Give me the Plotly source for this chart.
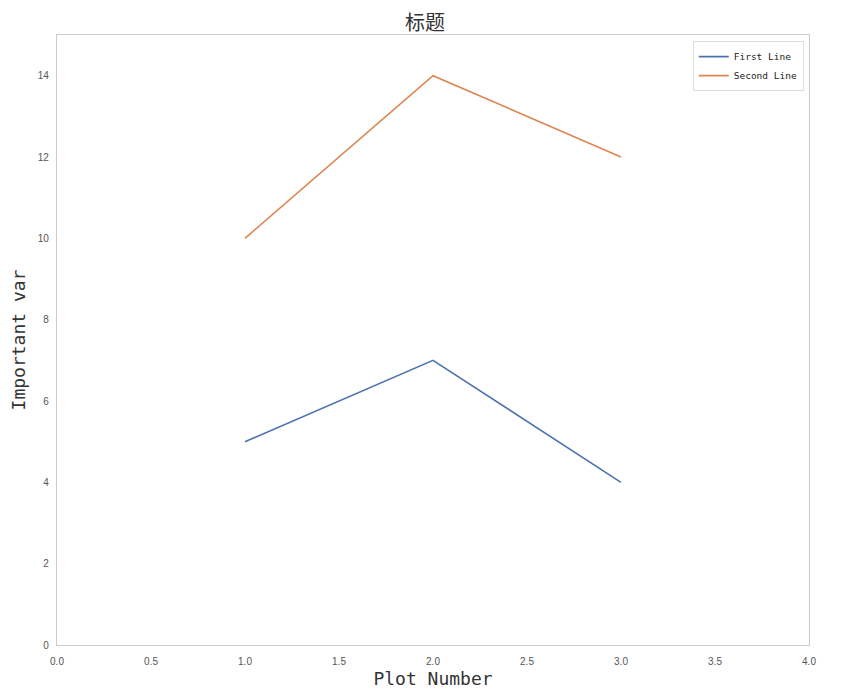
import plotly.graph_objects as go

x_values = [1, 2, 3]
first_line = [5, 7, 4]
second_line = [10, 14, 12]
x_ticks = [0.0, 0.5, 1.0, 1.5, 2.0, 2.5, 3.0, 3.5, 4.0]
x_tick_labels = ["0.0", "0.5", "1.0", "1.5", "2.0", "2.5", "3.0", "3.5", "4.0"]
y_ticks = [0, 2, 4, 6, 8, 10, 12, 14]

mono = "DejaVu Sans Mono, Noto Sans CJK SC, monospace"

fig = go.Figure()
fig.add_trace(go.Scatter(x=x_values, y=first_line, mode="lines", name="First Line",
                         line=dict(color="#4C72B0", width=1.6)))
fig.add_trace(go.Scatter(x=x_values, y=second_line, mode="lines", name="Second Line",
                         line=dict(color="#DD8452", width=1.6)))

fig.update_layout(
    width=834, height=685,
    margin=dict(l=49, r=33, t=27, b=48, autoexpand=False),
    paper_bgcolor="white", plot_bgcolor="white",
    title=dict(text="标题", x=0.5, xanchor="center", y=0.978, yanchor="middle",
               font=dict(family="Noto Sans CJK SC", size=20, color="#333")),
    legend=dict(x=0.993, y=0.99, xanchor="right", yanchor="top",
                bordercolor="#dddddd", borderwidth=1, bgcolor="white",
                font=dict(family=mono, size=9.5, color="#222"),
                tracegroupgap=0, itemwidth=30),
    xaxis=dict(range=[0, 4], tickvals=x_ticks, ticktext=x_tick_labels,
               showgrid=False, zeroline=False, showline=True, mirror=True,
               linecolor="#cccccc", linewidth=1.2, ticks="", automargin=False,
               ticklabelstandoff=7,
               tickfont=dict(family="Liberation Sans, Arial", size=10, color="#555"),
               title=dict(text="Plot Number", standoff=6,
                          font=dict(family=mono, size=18, color="#333"))),
    yaxis=dict(range=[0, 15], tickvals=y_ticks,
               showgrid=False, zeroline=False, showline=True, mirror=True,
               linecolor="#cccccc", linewidth=1.2, ticks="", automargin=False,
               ticklabelstandoff=5,
               tickfont=dict(family="Liberation Sans, Arial", size=10, color="#555"),
               title=dict(text="Important var", standoff=13,
                          font=dict(family=mono, size=18, color="#333"))),
    showlegend=True,
)

fig.write_html("out.html")
